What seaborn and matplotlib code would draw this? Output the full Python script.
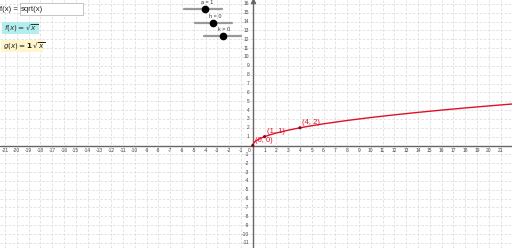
import numpy as np
import pandas as pd
import matplotlib
matplotlib.use("Agg")
import matplotlib.pyplot as plt
from matplotlib.patches import Rectangle
import seaborn as sns

# ---- data ----
curve_x = [0, 0.05, 0.15, 0.3, 0.5, 0.75, 1, 1.5, 2, 3, 4, 5, 6, 8, 10, 12, 14, 16, 18, 20, 22]
curve_y = [0.0, 0.224, 0.387, 0.548, 0.707, 0.866, 1.0, 1.225, 1.414, 1.732, 2.0, 2.236, 2.449,
           2.828, 3.162, 3.464, 3.742, 4.0, 4.243, 4.472, 4.690]
point_x = [0, 1, 4]
point_y = [0, 1, 2]
point_labels = ["(0, 0)", "(1, 1)", "(4, 2)"]
slider_names = ["a", "h", "k"]
slider_values = [1, 0, 0]
slider_min, slider_max = -10, 10
x_ticks = list(range(-21, 22))
y_ticks = list(range(-11, 17))

W, H = 512, 248
sns.set_style("white")
plt.rcParams["font.family"] = ["Liberation Sans", "DejaVu Sans"]
fig = plt.figure(figsize=(W / 100, H / 100), dpi=100)
ax = fig.add_axes([0, 0, 1, 1])
ax.set_xlim(-21.42, 21.97)
ax.set_ylim(-11.58, 16.44)

# grid
for xv in x_ticks:
    ax.axvline(xv, color="#dedede", lw=0.6, ls=(0, (3, 2)), zorder=0)
for yv in y_ticks:
    ax.axhline(yv, color="#dedede", lw=0.6, ls=(0, (3, 2)), zorder=0)

# axes lines
ax.axhline(0, color="#666666", lw=1.0, zorder=1)
ax.axvline(0, color="#666666", lw=1.0, zorder=1)
ax.plot([0], [16.3], marker="^", color="#666666", ms=3, zorder=1)

# tick labels
for xv in x_ticks:
    if xv == 0:
        ax.text(-0.15, -0.25, "0", fontsize=3.5, color="#444444", ha="right", va="top")
        continue
    ax.text(xv, -0.25, str(xv), fontsize=3.5, color="#444444", ha="center", va="top")
for yv in y_ticks:
    if yv == 0:
        continue
    ax.text(-0.3, yv, str(yv), fontsize=3.5, color="#444444", ha="right", va="center")

# curve and points
df = pd.DataFrame({"x": curve_x, "y": curve_y})
sns.lineplot(data=df, x="x", y="y", ax=ax, color="#e0102a", lw=1.0, zorder=3)
pdf = pd.DataFrame({"x": point_x, "y": point_y})
sns.scatterplot(data=pdf, x="x", y="y", ax=ax, color="#7a0a14", s=5, edgecolor="none", zorder=4)
for xv, yv, lab in zip(point_x, point_y, point_labels):
    ax.annotate(lab, (xv, yv), xytext=(2, 2), textcoords="offset pixels",
                fontsize=5.5, color="#e0102a", ha="left", va="bottom", zorder=5)

ax.set_xlabel("")
ax.set_ylabel("")
ax.set_xticks([])
ax.set_yticks([])
for s in ax.spines.values():
    s.set_visible(False)

def fx(px):
    return px / W

def fy(py):
    return 1 - py / H

# sliders
slider_geom = [(184, 221.7, 9.3), (195, 231.7, 22.7), (204, 241, 36.3)]
for name, val, (x0, x1, yy) in zip(slider_names, slider_values, slider_geom):
    fig.add_artist(plt.Line2D([fx(x0), fx(x1)], [fy(yy), fy(yy)], color="#999999", lw=1.6))
    frac = (val - slider_min) / (slider_max - slider_min)
    dx = x0 + frac * (x1 - x0)
    fig.add_artist(plt.Line2D([fx(dx)], [fy(yy)], marker="o", color="black", ms=4.5))
    fig.text(fx(dx + 2), fy(yy - 4), f"{name} = {val}", fontsize=4, color="#333333",
             ha="center", va="bottom")

# input box
fig.add_artist(Rectangle((fx(19.5), fy(15.2)), fx(83.3) - fx(19.5), fy(3.3) - fy(15.2),
                         transform=fig.transFigure, facecolor="white", edgecolor="#bbbbbb", lw=0.6))
fig.text(fx(0.5), fy(9.2), "f(x) =", fontsize=5.6, color="#222222", ha="left", va="center")
fig.text(fx(20.5), fy(9.2), "sqrt(x)", fontsize=5.6, color="#222222", ha="left", va="center")

# formula boxes
fig.add_artist(Rectangle((fx(1.7), fy(34.3)), fx(39) - fx(1.7), fy(22.3) - fy(34.3),
                         transform=fig.transFigure, facecolor="#b2eeee", edgecolor="none"))
fig.text(fx(4), fy(28.3), r"$f(x)=\sqrt{x}$", fontsize=5.2, color="#333333", ha="left", va="center")
fig.add_artist(Rectangle((fx(1), fy(52.3)), fx(43.3) - fx(1), fy(40) - fy(52.3),
                         transform=fig.transFigure, facecolor="#fff6cc", edgecolor="none"))
fig.text(fx(3), fy(46.2), r"$g(x)=\mathbf{1}\,\sqrt{x}$", fontsize=5.2, color="#222222", ha="left", va="center")

fig.savefig("out.png", dpi=100)
